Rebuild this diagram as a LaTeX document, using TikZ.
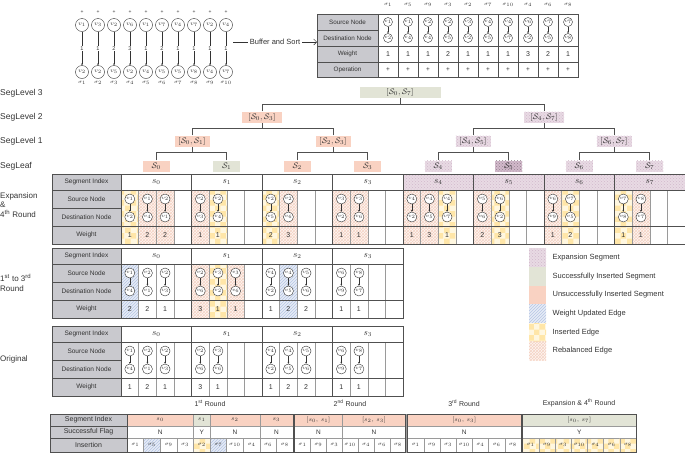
\documentclass[tikz,border=0pt]{standalone}
\usepackage{fontspec}
\setmainfont{Liberation Sans}
\usepackage{amsmath}
\usetikzlibrary{patterns,arrows.meta,positioning}

\definecolor{hdgray}{HTML}{C9C9CE}
\definecolor{tabline}{HTML}{505050}
\definecolor{subline}{HTML}{9A9A9A}
\definecolor{txt}{HTML}{333333}
\definecolor{unsucc}{HTML}{F9D2C2}
\definecolor{succ}{HTML}{E2E4D6}
\definecolor{expa}{HTML}{E8DAE4}
\definecolor{expdot}{HTML}{D2B9CB}
\definecolor{updbg}{HTML}{E6ECF6}
\definecolor{updln}{HTML}{B6C6E4}
\definecolor{insbg}{HTML}{FFF7E0}
\definecolor{insck}{HTML}{FFE6A8}
\definecolor{rebbg}{HTML}{FEF6F2}
\definecolor{rebln}{HTML}{F5D3C4}

\tikzset{
  hdcell/.style={draw=tabline, fill=hdgray, anchor=north west, inner sep=0pt, outer sep=0pt,
    minimum width=69pt, font=\fontsize{6.5}{7}\selectfont},
  idxcell/.style={anchor=north west, inner sep=0pt, outer sep=0pt, minimum width=70.5pt,
    minimum height=16pt, font=\fontsize{9}{10}\selectfont},
  segunsucc/.style={fill=unsucc},
  segsucc/.style={fill=succ},
  segexp/.style={preaction={fill=expa}, pattern=crosshatch dots, pattern color=expdot},
  segexpdark/.style={preaction={fill=expdot}, pattern=crosshatch dots, pattern color=expdot!70!black},
  edgeupd/.style={preaction={fill=updbg}, pattern=north east lines, pattern color=updln},
  edgeins/.style={preaction={fill=insbg}, pattern=checkerboard, pattern color=insck},
  edgereb/.style={preaction={fill=rebbg}, pattern=crosshatch, pattern color=rebln},
  edgenone/.style={},
  vcirc/.style={circle, draw=txt, fill=white, inner sep=0pt, minimum size=10pt, line width=0.4pt,
    font=\fontsize{5}{5}\selectfont},
  gcirc/.style={vcirc, minimum size=13pt, font=\fontsize{6.5}{7}\selectfont},
  vedge/.style={-{Stealth[length=2pt,width=1.8pt]}, draw=txt, line width=0.35pt},
  wlab/.style={fill=white, inner sep=0.8pt, font=\fontsize{5.5}{6}\selectfont},
  tinylab/.style={inner sep=0pt, font=\fontsize{5}{6}\selectfont},
  lbl/.style={anchor=west, inner sep=0pt, font=\fontsize{8.5}{9}\selectfont},
  segbox/.style={inner sep=0pt, minimum height=11pt, font=\fontsize{8.5}{9}\selectfont},
  tree/.style={draw=tabline, line width=0.6pt},
  subl/.style={draw=subline, line width=0.4pt},
  tabl/.style={draw=tabline, line width=0.7pt},
  bcell/.style={anchor=north west, inner sep=0pt, outer sep=0pt, draw=subline, line width=0.4pt,
    minimum height=12pt, font=\fontsize{6.5}{7}\selectfont},
  bins/.style={bcell, minimum height=14pt, font=\fontsize{5.5}{6}\selectfont},
  swatch/.style={anchor=north west, inner sep=0pt, minimum width=17pt, minimum height=18.7pt},
  legtext/.style={inner sep=0pt, font=\fontsize{7.5}{8}\selectfont},
}

% grid of one segment table: #1 name, #2 top, #3 number of segments
\newcommand{\segframe}[3]{%
  \foreach \t/\dy/\h [count=\n] in {Segment Index/0/16pt, Source Node/16/18pt,
      Destination Node/34/18pt, Weight/52/18pt}
    \node[hdcell, minimum height=\h] (#1h\n) at (52,#2+\dy) {\t};
  \pgfmathtruncatemacro\lastseg{#3-1}
  \foreach \i in {0,...,\lastseg}{
    \foreach \j in {1,2,3}
      \draw[subl] (121+70.5*\i+17.625*\j,#2+16) -- ++(0,54);
    \draw[tabl] (121+70.5*\i,#2) -- ++(0,70);
  }
  \draw[tabl] (121,#2+16) -- ++(70.5*#3,0);
  \draw[tabl] (121,#2+52) -- ++(70.5*#3,0);
  \draw[tabl] (52,#2) rectangle ++(69+70.5*#3,70);
}

% edges of one segment table: #1 name, #2 top, #3 seg/col/src/dst/weight/style
\newcommand{\segedges}[3]{%
  \foreach \sg/\cl/\s/\d/\w/\st in {#3}{
    \path[\st] (121+70.5*\sg+17.625*\cl,#2+16) rectangle ++(17.625,54);
    \node[vcirc] (#1a\sg\cl) at (129.81+70.5*\sg+17.625*\cl,#2+25) {$v_{\s}$};
    \node[vcirc] (#1b\sg\cl) at (129.81+70.5*\sg+17.625*\cl,#2+43) {$v_{\d}$};
    \draw[vedge] (#1a\sg\cl) -- (#1b\sg\cl);
    \node[font=\fontsize{7}{8}\selectfont, inner sep=0pt] (#1w\sg\cl) at (129.81+70.5*\sg+17.625*\cl,#2+61) {\w};
  }
}

\begin{document}
\begin{tikzpicture}[x=1pt, y=-1pt, every node/.append style={text=txt}]
\useasboundingbox (0,0) rectangle (685,459);

% input edges
\foreach \s/\d/\w [count=\k] in {1/2/1,3/2/1,2/5/2,6/2/3,1/4/1,7/5/2,4/5/1,7/8/1,2/4/1,4/7/1}{
  \node[gcirc] (gs\k) at (66+16*\k,25) {$v_{\s}$};
  \node[gcirc] (gd\k) at (66+16*\k,72) {$v_{\d}$};
  \draw[vedge] (gs\k) -- node[wlab] (gw\k) {\w} (gd\k);
  \node[tinylab] (gp\k) at (66+16*\k,12) {+};
  \node[tinylab] (gm\k) at (66+16*\k,83) {$\sigma_{\k}$};
}

% buffered and sorted edges
\foreach \t/\yy/\h [count=\n] in {Source Node/14/16pt, Destination Node/30/16pt, Weight/46/16pt, Operation/62/15pt}
  \node[hdcell, minimum width=61pt, minimum height=\h, font=\fontsize{6.3}{7}\selectfont] (sth\n) at (317,\yy) {\t};
\foreach \k/\s/\d/\w [count=\n from 0] in {1/1/2/1,5/1/4/1,9/2/4/1,3/2/5/2,2/3/2/1,7/4/5/1,10/4/7/1,4/6/2/3,6/7/5/2,8/7/8/1}{
  \node[tinylab] (sts\n) at (388+20*\n,5) {$\sigma_{\k}$};
  \node[vcirc, minimum size=9pt] (sta\n) at (388+20*\n,22) {$v_{\s}$};
  \node[vcirc, minimum size=9pt] (stb\n) at (388+20*\n,38) {$v_{\d}$};
  \draw[vedge] (sta\n) -- (stb\n);
  \node[font=\fontsize{7}{8}\selectfont, inner sep=0pt] (stw\n) at (388+20*\n,54) {\w};
  \node[font=\fontsize{6.5}{7}\selectfont, inner sep=0pt] (sto\n) at (388+20*\n,69.5) {+};
}
\foreach \n in {1,...,9}
  \draw[tabl] (378+20*\n,14) -- (378+20*\n,77);
\draw[tabl] (378,46) -- (578,46);
\draw[tabl] (378,62) -- (578,62);
\draw[tabl] (317,14) rectangle (578,77);
\coordinate (bsin) at (233,42);
\draw[-{Straight Barb[length=3pt]}, draw=txt, line width=0.5pt] (bsin) -- node[fill=white, inner sep=1.5pt, font=\fontsize{7.5}{8}\selectfont] (bslab) {Buffer and Sort} (sth2.west |- bsin);

% segment tree
\node[lbl] (lv3) at (0,93) {SegLevel 3};
\node[lbl] (lv2) at (0,117) {SegLevel 2};
\node[lbl] (lv1) at (0,141) {SegLevel 1};
\node[lbl] (lv0) at (0,166) {SegLeaf};
\node[segbox, segsucc, minimum width=81pt] (l3) at (400,92) {$[\mathcal{S}_0,\mathcal{S}_7]$};
\node[segbox, segunsucc, minimum width=40pt] (l2a) at (262,117) {$[\mathcal{S}_0,\mathcal{S}_3]$};
\node[segbox, segexp, minimum width=40pt] (l2b) at (544,117) {$[\mathcal{S}_4,\mathcal{S}_7]$};
\node[segbox, segunsucc, minimum width=35pt] (l1a) at (192,141) {$[\mathcal{S}_0,\mathcal{S}_1]$};
\node[segbox, segunsucc, minimum width=35pt] (l1b) at (333,141) {$[\mathcal{S}_2,\mathcal{S}_3]$};
\node[segbox, segexp, minimum width=35pt] (l1c) at (473,141) {$[\mathcal{S}_4,\mathcal{S}_5]$};
\node[segbox, segexp, minimum width=35pt] (l1d) at (614,141) {$[\mathcal{S}_6,\mathcal{S}_7]$};
\foreach \i/\st in {0/segunsucc,1/segsucc,2/segunsucc,3/segunsucc,4/segexp,5/segexpdark,6/segexp,7/segexp}
  \node[segbox, \st, minimum width=27pt] (lf\i) at (156.25+70.5*\i,166) {$\mathcal{S}_{\i}$};
\coordinate (bar3) at (0,104);
\coordinate (bar2) at (0,128);
\coordinate (bar1) at (0,152);
\foreach \c in {l2a,l2b}
  \draw[tree] (\c.north) -- (\c.north |- bar3) -| (l3.south);
\foreach \c in {l1a,l1b}
  \draw[tree] (\c.north) -- (\c.north |- bar2) -| (l2a.south);
\foreach \c in {l1c,l1d}
  \draw[tree] (\c.north) -- (\c.north |- bar2) -| (l2b.south);
\foreach \c/\p in {lf0/l1a,lf1/l1a,lf2/l1b,lf3/l1b,lf4/l1c,lf5/l1c,lf6/l1d,lf7/l1d}
  \draw[tree] (\c.north) -- (\c.north |- bar1) -| (\p.south);

% expansion and 4th round
\node[lbl, font=\fontsize{8}{9}\selectfont] (ta1) at (0,196) {Expansion};
\node[lbl, font=\fontsize{8}{9}\selectfont] (ta2) at (0,205) {\&};
\node[lbl, font=\fontsize{8}{9}\selectfont] (ta3) at (0,214) {4\textsuperscript{th} Round};
\foreach \i in {0,...,3}
  \node[idxcell] (t1s\i) at (121+70.5*\i,174) {$s_{\i}$};
\foreach \i in {4,...,7}
  \node[idxcell, segexp] (t1s\i) at (121+70.5*\i,174) {$s_{\i}$};
\segedges{t1}{174}{0/0/1/2/1/edgeins, 0/1/1/4/2/edgereb, 0/2/2/1/2/edgereb,
  1/0/2/3/1/edgereb, 1/1/2/4/1/edgeins, 2/0/2/5/2/edgeins, 2/1/2/6/3/edgereb,
  3/0/3/2/1/edgereb, 3/1/3/6/1/edgereb, 4/0/4/2/1/edgereb, 4/1/4/5/3/edgereb,
  4/2/4/7/1/edgeins, 5/0/5/6/2/edgereb, 5/1/6/2/3/edgeins, 6/0/6/9/1/edgereb,
  6/1/7/5/2/edgeins, 7/0/7/8/1/edgeins, 7/1/8/7/1/edgereb}
\segframe{t1}{174}{8}

% 1st to 3rd round
\node[lbl, font=\fontsize{8}{9}\selectfont] (tb1) at (0,278) {1\textsuperscript{st} to 3\textsuperscript{rd}};
\node[lbl, font=\fontsize{8}{9}\selectfont] (tb2) at (0,289) {Round};
\foreach \i in {0,...,3}
  \node[idxcell] (t2s\i) at (121+70.5*\i,248) {$s_{\i}$};
\segedges{t2}{248}{0/0/1/4/2/edgeupd, 0/1/2/1/2/edgenone, 0/2/2/3/1/edgenone,
  1/0/2/6/3/edgereb, 1/1/3/2/1/edgeins, 1/2/3/6/1/edgereb,
  2/0/4/2/1/edgenone, 2/1/4/5/2/edgeupd, 2/2/5/6/2/edgenone,
  3/0/6/9/1/edgenone, 3/1/8/7/1/edgenone}
\segframe{t2}{248}{4}

% original
\node[lbl, font=\fontsize{8}{9}\selectfont] (tc1) at (0,359) {Original};
\foreach \i in {0,...,3}
  \node[idxcell] (t3s\i) at (121+70.5*\i,326) {$s_{\i}$};
\segedges{t3}{326}{0/0/1/4/1/edgenone, 0/1/2/1/2/edgenone, 0/2/2/3/1/edgenone,
  1/0/2/6/3/edgenone, 1/1/3/6/1/edgenone,
  2/0/4/2/1/edgenone, 2/1/4/5/2/edgenone, 2/2/5/6/2/edgenone,
  3/0/6/9/1/edgenone, 3/1/8/7/1/edgenone}
\segframe{t3}{326}{4}

% legend
\foreach \st/\t [count=\n from 0] in {segexp/Expansion Segment, segsucc/Successfully Inserted Segment,
    segunsucc/Unsuccessfully Inserted Segment, edgeupd/Weight Updated Edge,
    edgeins/Inserted Edge, edgereb/Rebalanced Edge}{
  \node[swatch, \st] (lg\n) at (529,248+18.7*\n) {};
  \node[legtext, right=6pt of lg\n] (lt\n) {\t};
}

% insertion rounds
\foreach \t/\yy/\h [count=\n] in {Segment Index/414/12pt, Successful Flag/426/12pt, Insertion/438/14pt}
  \node[hdcell, minimum width=77pt, minimum height=\h, font=\fontsize{7}{8}\selectfont] (bh\n) at (50,\yy) {\t};
\node[font=\fontsize{7}{8}\selectfont] (rd1) at (210,403) {1\textsuperscript{st} Round};
\node[font=\fontsize{7}{8}\selectfont] (rd2) at (350,403) {2\textsuperscript{nd} Round};
\node[font=\fontsize{7}{8}\selectfont] (rd3) at (464,403) {3\textsuperscript{rd} Round};
\node[font=\fontsize{7}{8}\selectfont] (rd4) at (579,403) {Expansion \& 4\textsuperscript{th} Round};
% round 1
\foreach \x/\w/\t/\st/\f [count=\n] in {127/66.4pt/s_0/segunsucc/N, 193.4/16.6pt/s_1/segsucc/Y,
    210/49.8pt/s_2/segunsucc/N, 259.8/33.2pt/s_3/segunsucc/N}{
  \node[bcell, \st, minimum width=\w] (r1s\n) at (\x,414) {$\t$};
  \node[bcell, minimum width=\w] (r1f\n) at (\x,426) {\f};
}
\foreach \k/\st [count=\n from 0] in {1/edgenone, 5/edgeupd, 9/edgenone, 3/edgenone, 2/edgeins,
    7/edgeupd, 10/edgenone, 4/edgenone, 6/edgenone, 8/edgenone}
  \node[bins, \st, minimum width=16.6pt] (r1c\n) at (127+16.6*\n,438) {$\sigma_{\k}$};
\draw[tabl] (127,414) rectangle (293,452);
% round 2
\foreach \x/\w/\t [count=\n] in {294.5/47.7pt/{[s_0,\,s_1]}, 342.2/63.6pt/{[s_2,\,s_3]}}{
  \node[bcell, segunsucc, minimum width=\w] (r2s\n) at (\x,414) {$\t$};
  \node[bcell, minimum width=\w] (r2f\n) at (\x,426) {N};
}
\foreach \k [count=\n from 0] in {1,9,3,10,4,6,8}
  \node[bins, minimum width=15.9pt] (r2c\n) at (294.5+15.9*\n,438) {$\sigma_{\k}$};
\draw[tabl] (294.5,414) rectangle (405.8,452);
% round 3
\node[bcell, segunsucc, minimum width=113.4pt] (r3s1) at (407.5,414) {$[s_0,\,s_3]$};
\node[bcell, minimum width=113.4pt] (r3f1) at (407.5,426) {N};
\foreach \k [count=\n from 0] in {1,9,3,10,4,6,8}
  \node[bins, minimum width=16.2pt] (r3c\n) at (407.5+16.2*\n,438) {$\sigma_{\k}$};
\draw[tabl] (407.5,414) rectangle (520.9,452);
% expansion and round 4
\node[bcell, segsucc, minimum width=113.4pt] (r4s1) at (522.5,414) {$[s_0,\,s_7]$};
\node[bcell, minimum width=113.4pt] (r4f1) at (522.5,426) {Y};
\foreach \k [count=\n from 0] in {1,9,3,10,4,6,8}
  \node[bins, edgeins, minimum width=16.2pt] (r4c\n) at (522.5+16.2*\n,438) {$\sigma_{\k}$};
\draw[tabl] (522.5,414) rectangle (635.9,452);
\end{tikzpicture}
\end{document}
